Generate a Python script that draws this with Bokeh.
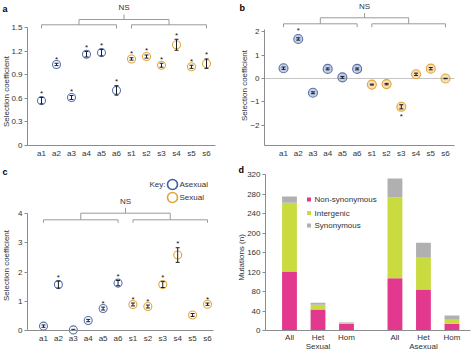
import math
from bokeh.plotting import figure
from bokeh.layouts import row, column
from bokeh.models import (ColumnDataSource, Range1d, FixedTicker, Label,
                          NumeralTickFormatter)
from bokeh.core.properties import value
from bokeh.embed import file_html
from bokeh.resources import INLINE

# ---------------- data ----------------
strains = ["a1", "a2", "a3", "a4", "a5", "a6", "s1", "s2", "s3", "s4", "s5", "s6"]

a_mean = [0.57, 1.03, 0.61, 1.16, 1.18, 0.70, 1.10, 1.13, 1.02, 1.28, 1.00, 1.04]
a_err = [0.04, 0.015, 0.025, 0.035, 0.04, 0.06, 0.015, 0.02, 0.025, 0.07, 0.02, 0.06]
a_star = [1, 1, 1, 1, 1, 1, 1, 1, 1, 1, 1, 1]

b_mean = [0.44, 1.69, -0.61, 0.41, 0.05, 0.41, -0.26, -0.24, -1.21, 0.18, 0.42, 0.0]
b_err = [0.05, 0.05, 0.04, 0.04, 0.04, 0.04, 0.02, 0.03, 0.09, 0.05, 0.05, 0.01]
b_star = [0, 1, 0, 0, 0, 0, 0, 0, -1, 0, 0, 0]

c_mean = [0.15, 1.57, 0.02, 0.34, 0.75, 1.62, 0.89, 0.82, 1.57, 2.58, 0.53, 0.90]
c_err = [0.04, 0.12, 0.02, 0.04, 0.05, 0.09, 0.05, 0.05, 0.10, 0.25, 0.05, 0.04]
c_star = [0, 1, 0, 0, 1, 1, 1, 1, 1, 1, 0, 1]

a_yticks = [0, 0.3, 0.6, 0.9, 1.2, 1.5]
b_yticks = [-2, -1, 0, 1, 2]
c_yticks = [0, 1, 2, 3, 4]

mut_class = ["All", "Het", "Hom", "All", "Het", "Hom"]
mut_group = ["Sexual", "Sexual", "Sexual", "Asexual", "Asexual", "Asexual"]
nonsyn = [121, 43, 14, 107, 84, 14]
intergenic = [141, 10, 2, 166, 65, 8]
synonymous = [13, 4, 1, 39, 31, 9]
d_yticks = [0, 40, 80, 120, 160, 200, 240, 280, 320]
d_series = ["Non-synonymous", "Intergenic", "Synonymous"]

# ---------------- style ----------------
W = 237
HT, HB = 164, 187
FONT = "Liberation Sans"
FONT_V = value(FONT)
AX = "#8c8c8c"
TXT = "#333333"
BLUE = "#5573B3"
BLUE_KEY = "#3D5DA6"
ORANGE = "#E3A53A"
MAG = "#E2388D"
LIME = "#C9DB3F"
GRAY = "#B0B0B0"
BRK = "#9a9a9a"


def base_fig(H, xr, yr):
    p = figure(width=W, height=H, output_backend="svg", toolbar_location=None,
               x_range=Range1d(*xr), y_range=Range1d(*yr),
               min_border_left=0, min_border_right=0,
               min_border_top=0, min_border_bottom=0)
    p.outline_line_color = None
    p.grid.visible = False
    p.background_fill_color = "white"
    p.border_fill_color = "white"
    for ax in p.axis:
        ax.axis_line_color = AX
        ax.major_tick_line_color = AX
        ax.minor_tick_line_color = None
        ax.major_label_text_font = FONT
        ax.major_label_text_font_size = "8px"
        ax.major_label_text_color = TXT
    p.xaxis.major_tick_out = 0
    p.xaxis.major_tick_in = 0
    p.xaxis.major_label_standoff = 3
    p.yaxis.major_tick_out = 3
    p.yaxis.major_tick_in = 0
    p.yaxis.major_label_standoff = 2
    return p


def add_text(p, H, text, px, py, size="8px", bold=False, align="center",
             baseline="middle", angle=0.0, color=TXT):
    # px, py: panel pixel position measured from the panel's top-left corner
    p.add_layout(Label(x=px, y=H - py, x_units="screen", y_units="screen",
                       text=text, text_font=FONT, text_font_size=size,
                       text_font_style="bold" if bold else "normal",
                       text_align=align, text_baseline=baseline,
                       angle=angle, text_color=color))


def selection_panel(letter, mean, err, star, H, fl, fr, fb, x1px, x12px,
                    y0px, ppu, yticks, ybounds, br, filled, anchor_mean,
                    star_up, star_down, letter_pos, ylab_pos, zero_line=False,
                    yfmt=None):
    ppx = (x12px - x1px) / 11.0

    def xv(px):
        return 1 + (px - x1px) / ppx

    def yv(px):
        return (y0px - px) / ppu

    p = base_fig(H, (xv(0), xv(W)), (yv(H), yv(0)))

    xs = list(range(1, len(strains) + 1))
    p.xaxis.ticker = FixedTicker(ticks=xs)
    p.xaxis.major_label_overrides = {x: s for x, s in zip(xs, strains)}
    p.xaxis.fixed_location = yv(fb)
    p.xaxis.bounds = (xv(fl), xv(fr))
    p.yaxis.ticker = FixedTicker(ticks=yticks)
    p.yaxis.fixed_location = xv(fl)
    p.yaxis.bounds = ybounds
    if yfmt is not None:
        p.yaxis.formatter = yfmt
    p.yaxis.major_label_overrides = {t: str(t).replace("-", "\u2212")
                                     for t in yticks if isinstance(t, int)}

    if zero_line:
        p.segment(x0=[xv(fl)], y0=[0], x1=[xv(fr)], y1=[0],
                  line_color="#c4c4c4", line_width=1)

    colors = [BLUE if s.startswith("a") else ORANGE for s in strains]
    lo = [m - e for m, e in zip(mean, err)]
    hi = [m + e for m, e in zip(mean, err)]
    src = ColumnDataSource(dict(x=xs, mean=mean, lo=lo, hi=hi, color=colors))
    p.scatter("x", "mean", source=src, size=9 if filled else 8,
              line_color="color", line_width=1.1, fill_color="color",
              fill_alpha=0.35 if filled else 0.0)
    p.segment("x", "lo", "x", "hi", source=src, line_color="#1e1e1e", line_width=1)
    p.scatter("x", "lo", source=src, marker="dash", size=4, line_color="#1e1e1e")
    p.scatter("x", "hi", source=src, marker="dash", size=4, line_color="#1e1e1e")

    sx, sy, so = [], [], []
    for x, m, l, h, s in zip(xs, mean, lo, hi, star):
        if s == 0:
            continue
        anchor = m if anchor_mean else (h if s > 0 else l)
        sx.append(x)
        sy.append(anchor)
        so.append(-star_up if s > 0 else star_down)
    ssrc = ColumnDataSource(dict(x=sx, y=sy, t=["*"] * len(sx), yo=so))
    p.text("x", "y", text="t", y_offset="yo", source=ssrc, text_font=FONT_V,
           text_font_size="8px", text_align="center", text_baseline="middle",
           text_color="#111111")

    # NS bracket
    low, tick, up, stem, ns = [yv(v) for v in br]
    gl = sum(xs[:6]) / 6.0
    gr = sum(xs[6:]) / 6.0
    gc = (gl + gr) / 2.0
    bx = [[xs[0], xs[0], xs[5], xs[5]], [xs[6], xs[6], xs[11], xs[11]],
          [gl, gl, gr, gr], [gc, gc]]
    by = [[tick, low, low, tick], [tick, low, low, tick],
          [low, up, up, low], [up, stem]]
    p.multi_line(bx, by, line_color=BRK, line_width=1)
    p.add_layout(Label(x=gc, y=ns, text="NS", text_font=FONT, text_font_size="8px",
                       text_align="center", text_baseline="middle", text_color=TXT))

    add_text(p, H, letter, letter_pos[0], letter_pos[1], size="9px", bold=True,
             align="left", color="black")
    add_text(p, H, "Selection coefficient", ylab_pos[0], ylab_pos[1],
             angle=math.pi / 2)
    return p, xv, yv


pa, _, _ = selection_panel("a", a_mean, a_err, a_star, HT, 27, 215, 145, 41, 206,
                           145, 78.7, a_yticks, (0, 1.5), (24.3, 28, 19, 14, 7),
                           False, False, 4, 6, (2, 8), (5.5, 91),
                           yfmt=NumeralTickFormatter(format="0.[0]"))

pb, _, _ = selection_panel("b", b_mean, b_err, b_star, HT, 27, 217, 145, 46, 208,
                           78, 23.4, b_yticks, (-2.86, 2.1),
                           (23.3, 26.7, 17.3, 12.7, 6.3),
                           True, True, 8, 10, (2, 7), (6.5, 85), zero_line=True)

pc, xv_c, yv_c = selection_panel("c", c_mean, c_err, c_star, HB, 27, 213, 166, 43, 207,
                                 166, 29.25, c_yticks, (0, 4),
                                 (55.3, 58.3, 48.7, 43.3, 36.7),
                                 False, False, 4, 6, (2, 7), (5.5, 101))

# key in panel c
ksrc = ColumnDataSource(dict(x=[xv_c(172), xv_c(172)], y=[yv_c(20), yv_c(33)],
                             c=[BLUE_KEY, ORANGE]))
pc.scatter("x", "y", source=ksrc, size=10, line_color="c", line_width=1.6,
           fill_alpha=0)
add_text(pc, HB, "Key:", 165, 20, align="right")
add_text(pc, HB, "Asexual", 179, 20, align="left")
add_text(pc, HB, "Sexual", 179, 33, align="left")

# ---------------- panel d ----------------
dfl, dfr, dfb, dft = 28, 233, 166, 10
xpos = []
for i, g in enumerate(mut_group):
    xpos.append(10 * (i + 1) + (7 if g == "Asexual" else 0))
ppx_d = 2.85
x_first_px = 52


def xv_d(px):
    return xpos[0] + (px - x_first_px) / ppx_d


def yv_d(px):
    return (dfb - px) * d_yticks[-1] / (dfb - dft)


pd = base_fig(HB, (xv_d(0), xv_d(W)), (yv_d(HB), yv_d(0)))
pd.xaxis.ticker = FixedTicker(ticks=xpos)
pd.xaxis.major_label_overrides = {x: c for x, c in zip(xpos, mut_class)}
pd.xaxis.fixed_location = 0
pd.xaxis.bounds = (xv_d(dfl), xv_d(dfr))
pd.xaxis.major_label_standoff = 2
pd.yaxis.ticker = FixedTicker(ticks=d_yticks)
pd.yaxis.fixed_location = xv_d(dfl)
pd.yaxis.bounds = (0, d_yticks[-1])

dsrc = ColumnDataSource(dict(x=xpos, nonsyn=nonsyn, intergenic=intergenic,
                             syn=synonymous))
pd.vbar_stack(["nonsyn", "intergenic", "syn"], x="x", width=5.2, source=dsrc,
              color=[MAG, LIME, GRAY], line_width=0)

# legend (key) of panel d
leg_rows = [35, 48.5, 61]
lsrc = ColumnDataSource(dict(x=[xv_d(71.5)] * 3, y=[yv_d(r) for r in leg_rows],
                             c=[MAG, LIME, GRAY]))
pd.scatter("x", "y", source=lsrc, marker="square", size=4, fill_color="c",
           line_color=None)
for name, r in zip(d_series, leg_rows):
    add_text(pd, HB, name, 77, r, align="left")

for grp in ["Sexual", "Asexual"]:
    xs_g = [x for x, g in zip(xpos, mut_group) if g == grp]
    pd.add_layout(Label(x=sum(xs_g) / len(xs_g), y=1, x_units="data",
                        y_units="screen", text=grp, text_font=FONT,
                        text_font_size="8px", text_align="center",
                        text_baseline="bottom", text_color=TXT))

add_text(pd, HB, "d", 1, 5, size="9px", bold=True, align="left", color="black")
add_text(pd, HB, "Mutations (n)", 4, 93, angle=math.pi / 2)

layout = column(row(pa, pb), row(pc, pd))
open("out.html", "w").write(file_html(layout, INLINE))
